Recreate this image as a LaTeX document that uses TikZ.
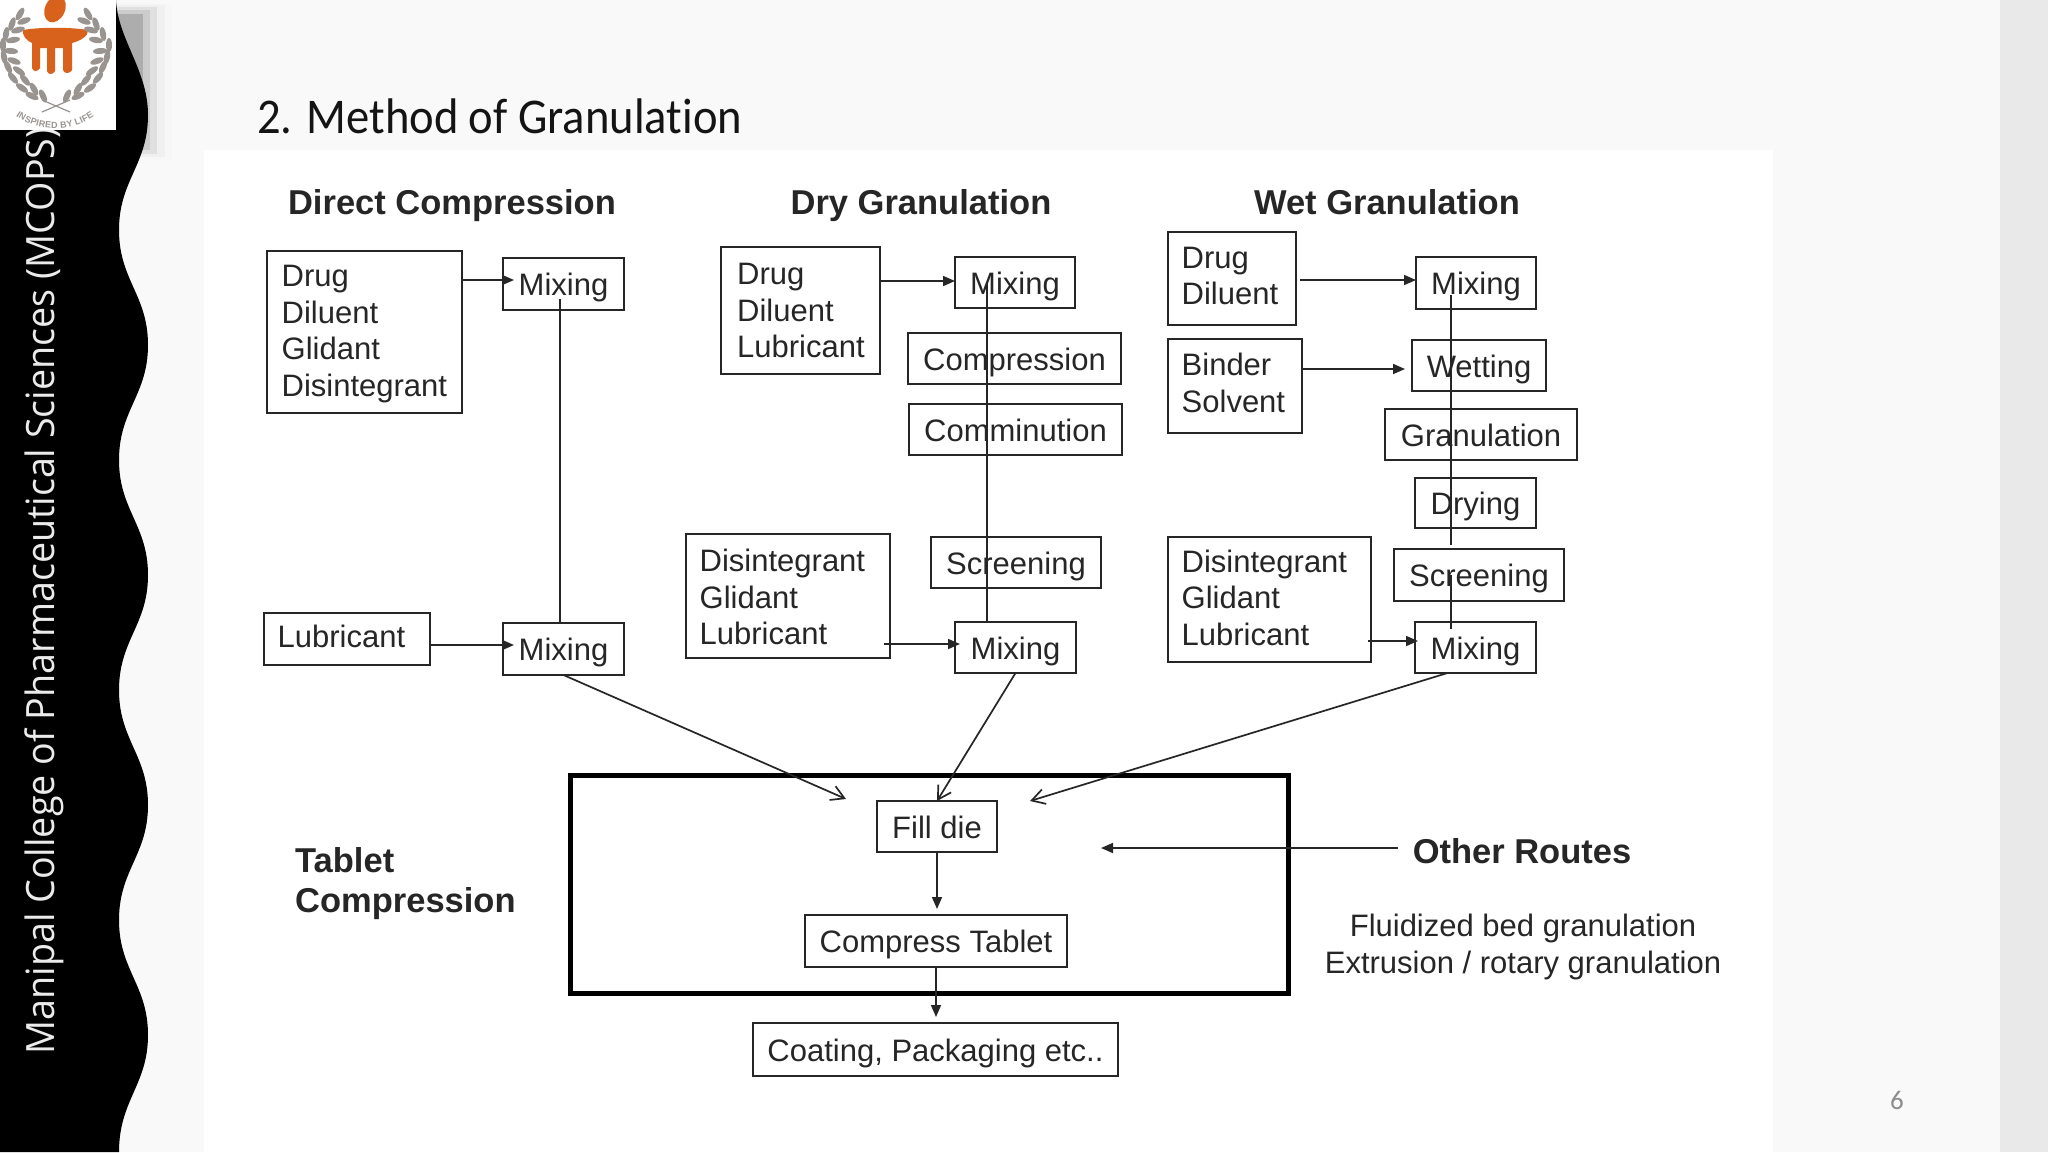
\documentclass[tikz,border=0pt]{standalone}
\usepackage{fontspec}
\usepackage{graphicx}
\usetikzlibrary{arrows.meta,decorations.text,calc}
\setmainfont{Liberation Sans}
\newfontfamily\slidefont[Ligatures=NoCommon]{Carlito}
\newfontfamily\sidefont{Open Sans}
\definecolor{pagebg}{HTML}{F9F9F9}
\definecolor{stripbg}{HTML}{E9E9E9}
\definecolor{ink}{HTML}{262626}
\definecolor{logoorange}{HTML}{D8621C}
\definecolor{leaf}{HTML}{9A9490}
\tikzset{
  box/.style={draw=ink,line width=1.7pt,inner sep=0pt,outer sep=0pt,text=ink,font=\fontsize{31}{36.5}\selectfont,align=center,text height=23pt,text depth=0pt},
  frame/.style={draw=ink,line width=1.7pt,inner sep=0pt,outer sep=0pt},
  boxtext/.style={inner sep=0pt,text=ink,font=\fontsize{31}{36.5}\selectfont,align=left,anchor=west},
  label/.style={inner sep=0pt,text=ink,font=\fontsize{31}{37}\selectfont,align=center},
  heading/.style={inner sep=0pt,text=ink,font=\fontsize{34.5}{40}\selectfont\bfseries,align=left},
  link/.style={draw=ink,line width=1.7pt},
  flow/.style={link,-{Triangle[length=12pt,width=10pt]}},
  openflow/.style={link,-{Straight Barb[length=13pt,width=15pt,line width=1.7pt]}},
  lf/.style={fill=leaf,draw=none}
}
% name, x1,y1,x2,y2, text (centred)
\newcommand\cbox[6]{\node[box,minimum width={(#4-#2)*1pt},minimum height={(#5-#3)*1pt}] (#1) at ({(#2+#4)/2},{(#3+#5)/2}) {#6};}
% name, x1,y1,x2,y2, text inset, text shift, text (left)
\newcommand\lbox[8]{\node[frame,minimum width={(#4-#2)*1pt},minimum height={(#5-#3)*1pt}] (#1) at ({(#2+#4)/2},{(#3+#5)/2}) {};
  \node[boxtext] (#1t) at ($(#1.west)+(#6,#7)$) {#8};}
\begin{document}
\begin{tikzpicture}[x=1pt,y=-1pt]
\useasboundingbox (0,0) rectangle (2048,1152);
% slide
\fill[pagebg] (0,0) rectangle (2048,1152);
\fill[stripbg] (2000,0) rectangle (2048,1152);
\fill[white] (204,150) rectangle (1773,1152);
% logo shadow
\fill[black!3] (116,3) rectangle (172,160);
\fill[black!6] (116,5) rectangle (165,157);
\fill[black!12] (116,7) rectangle (157,154);
\fill[black!20] (116,10) rectangle (150,150);
\fill[black!32] (116,14) rectangle (143,140);
% wavy side band
\fill[black] (0,0) -- (116,0) .. controls (118,40) and (148,70) .. (148,115)
  .. controls (148,165) and (119,180) .. (119,230)
  .. controls (119,280) and (148,295) .. (148,345)
  .. controls (148,395) and (119,410) .. (119,460)
  .. controls (119,510) and (148,525) .. (148,575)
  .. controls (148,625) and (119,640) .. (119,690)
  .. controls (119,740) and (148,755) .. (148,805)
  .. controls (148,855) and (119,870) .. (119,920)
  .. controls (119,970) and (148,985) .. (148,1035)
  .. controls (148,1085) and (119,1100) .. (119,1152)
  -- (0,1152) -- cycle;
\node[rotate=90,anchor=base,inner sep=0pt,text=white!92!black] (side) at (54,591)
  {\resizebox{927pt}{\height}{\fontsize{39}{44}\selectfont\sidefont Manipal College of Pharmaceutical Sciences (MCOPS)}};
% logo
\fill[white] (0,0) rectangle (116,130);
\fill[logoorange,rotate around={-25:(55,9)}] (55,9) ellipse (10 and 14);
\fill[logoorange] (23,30) .. controls (40,27) and (70,27) .. (88,30) .. controls (89,36) and (80,41) .. (72,43)
  -- (72,70) .. controls (70,74) and (64,74) .. (63,70) -- (63,48) -- (55,48) -- (55,71) .. controls (53,75) and (48,75) .. (47,71)
  -- (47,48) -- (40,48) -- (40,68) .. controls (38,72) and (33,72) .. (32,68) -- (32,43) .. controls (27,41) and (22,36) .. (23,30) -- cycle;
\foreach \x/\y/\a in {20/14/60,24/21/20,12/24/70,18/30/15,6/34/80,13/40/10,3/45/90,11/51/-5,4/57/100,14/61/-20,8/67/115,19/71/-35,13/78/130,25/80/-50,22/88/145,34/89/-60,32/96/155,43/96/-65}{
  \fill[lf,rotate around={\a:(\x,\y)}] (\x,\y) ellipse (7 and 3);}
\foreach \x/\y/\a in {88/14/-60,84/21/-20,96/24/-70,91/30/-15,103/34/-80,96/40/-10,109/45/-90,100/51/5,107/57/-100,97/61/20,103/67/-115,92/71/35,98/78/-130,86/80/50,90/88/-145,78/89/60,78/96/-155,67/96/65}{
  \fill[lf,rotate around={\a:(\x,\y)}] (\x,\y) ellipse (7 and 3);}
\draw[leaf,line width=1.2pt] (42,112) -- (70,100) (42,100) -- (70,112);
\path[decorate,decoration={text along path,text align=center,raise=-3pt,
  text={|\fontsize{9}{9}\selectfont\bfseries\color{leaf}|INSPIRED BY LIFE}}]
  (8,106) .. controls (35,132) and (75,132) .. (102,106);
% title and page number
\node[anchor=base west,inner sep=0pt,text=black!92] (title) at (257,133)
  {\resizebox{485pt}{\height}{\fontsize{50}{54}\selectfont\slidefont 2. Method of Granulation}};
\node[inner sep=0pt,text=black!45,font=\fontsize{27}{30}\selectfont\slidefont] (pagenum) at (1897,1100) {6};
% headings
\node[heading,anchor=base] (hdc) at (452,214) {Direct Compression};
\node[heading,anchor=base] (hdry) at (921,214) {Dry Granulation};
\node[heading,anchor=base] (hwet) at (1387,214) {Wet Granulation};
% direct compression
\lbox{dcin}{267}{251}{462}{413}{14.5}{2}{Drug\\Diluent\\Glidant\\Disintegrant}
\cbox{dcmixa}{503}{258}{624}{310}{Mixing}
\lbox{dclub}{264}{613}{430}{665}{13.5}{-2.5}{Lubricant}
\cbox{dcmixb}{503}{623}{624}{675}{Mixing}
% dry granulation
\lbox{dryin}{721}{247}{880}{374}{16}{0}{Drug\\Diluent\\Lubricant}
\cbox{drymixa}{955}{257}{1075}{308}{Mixing}
\cbox{drycomp}{908}{333}{1121}{384}{Compression}
\cbox{drycomm}{909}{404}{1122}{455}{Comminution}
\cbox{dryscr}{931}{537}{1101}{588}{Screening}
\lbox{dryex}{686}{534}{890}{658}{13.5}{1.3}{Disintegrant\\Glidant\\Lubricant}
\cbox{drymixb}{955}{622}{1076}{673}{Mixing}
% wet granulation
\lbox{wetin}{1168}{232}{1296}{325}{13.5}{-2.6}{Drug\\Diluent}
\lbox{wetbind}{1168}{339}{1302}{433}{13.5}{-3}{Binder\\Solvent}
\lbox{wetex}{1168}{537}{1371}{662}{13.5}{-2}{Disintegrant\\Glidant\\Lubricant}
\cbox{wetmixa}{1416}{257}{1536}{309}{Mixing}
\cbox{wetwet}{1412}{340}{1546}{391}{Wetting}
\cbox{wetgran}{1385}{409}{1577}{460}{Granulation}
\cbox{wetdry}{1415}{478}{1536}{528}{Drying}
\cbox{wetscr}{1394}{549}{1564}{601}{Screening}
\cbox{wetmixb}{1415}{622}{1536}{673}{Mixing}
% tablet compression
\node[draw=black,line width=5pt,minimum width=718pt,minimum height=218pt,inner sep=0pt] (press) at (929,884) {};
\node[heading,anchor=west] (htab) at (295,884) {Tablet\\Compression};
\cbox{fill}{877}{801}{997}{852}{Fill die}
\cbox{tablet}{805}{915}{1067}{967}{Compress Tablet}
\cbox{coat}{753}{1023}{1118}{1076}{Coating, Packaging etc..}
\node[heading] (other) at (1522,851) {Other Routes};
\node[label] (routes) at (1523,946.5) {Fluidized bed granulation\\Extrusion / rotary granulation};
% free ends
\coordinate (dcv) at (560,299);
\coordinate (dryv) at (987,283);
\coordinate (wetv) at (1451,295);
\coordinate (wetgap) at (1451,545);
\coordinate (wetres) at (1451,575);
\coordinate (dcgo) at (846,799);
\coordinate (wetgo) at (1030,801);
\coordinate (otherout) at (1398,848);
\coordinate (otherin) at (1101,848);
% connectors
\draw[flow] (dcin.east |- 0,280) -- ([xshift=11pt]dcmixa.west |- 0,280);
\draw[flow] (dclub.east |- 0,645) -- ([xshift=11pt]dcmixb.west |- 0,645);
\draw[link] (dcv) -- (dcv |- dcmixb.north);
\draw[flow] (dryin.east |- 0,281) -- (drymixa.west |- 0,281);
\draw[flow] ([xshift=-6pt]dryex.east |- 0,644) -- ([xshift=5pt]drymixb.west |- 0,644);
\draw[link] (dryv) -- (dryv |- drymixb.north);
\draw[flow] ([xshift=4pt]wetin.east |- 0,280) -- (wetmixa.west |- 0,280);
\draw[flow] (wetbind.east |- 0,369) -- ([xshift=-7pt]wetwet.west |- 0,369);
\draw[flow] ([xshift=-3pt]wetex.east |- 0,641) -- ([xshift=3pt]wetmixb.west |- 0,641);
\draw[link] (wetv) -- (wetgap);
\draw[link] (wetres) -- ([yshift=-7pt]wetres |- wetmixb.north);
\draw[openflow] (dcmixb.south) -- (dcgo);
\draw[openflow] (drymixb.south) -- (fill.north);
\draw[openflow] ([xshift=-28pt]wetmixb.south) -- (wetgo);
\draw[flow] (fill.south) -- ++(0,57);
\draw[flow] (tablet.south) -- ++(0,50);
\draw[flow] (otherout) -- (otherin);
\end{tikzpicture}
\end{document}
